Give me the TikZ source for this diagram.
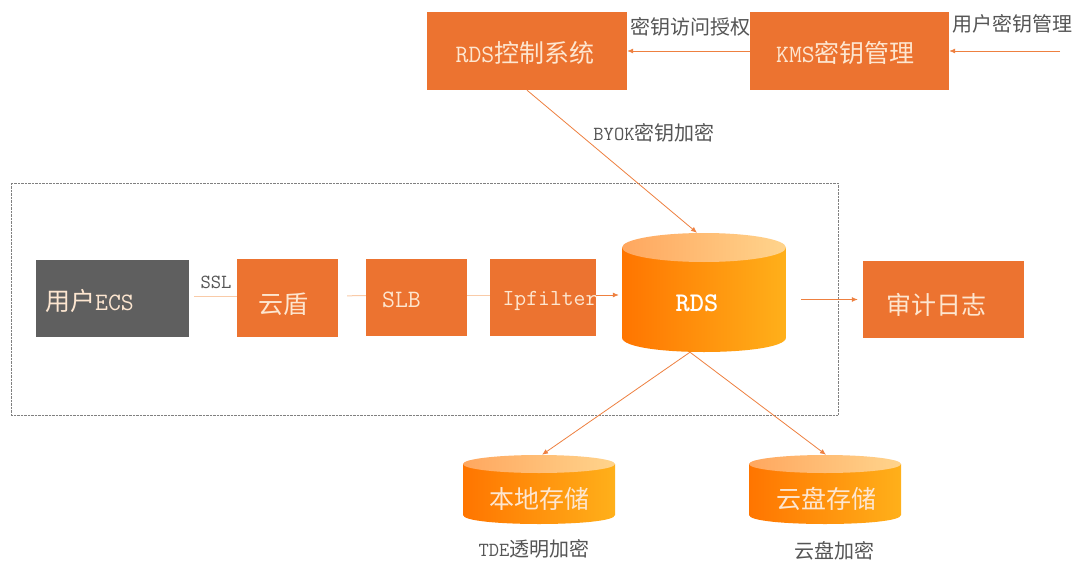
\documentclass[tikz,border=0pt]{standalone}
\usepackage{fontspec}
\usetikzlibrary{arrows.meta}
\newfontfamily\cjk{Noto Sans CJK SC}
\definecolor{boxorange}{HTML}{EC7330}
\definecolor{boxgray}{HTML}{5F5F5F}
\definecolor{paletext}{HTML}{FDE6D0}
\definecolor{linkdark}{HTML}{EE8040}
\definecolor{linklight}{HTML}{F9CBA8}
\definecolor{notegray}{HTML}{555555}
\definecolor{bodyleft}{HTML}{FF7500}
\definecolor{bodyright}{HTML}{FFB01A}
\definecolor{lidleft}{HTML}{FFA75F}
\definecolor{lidright}{HTML}{FFD48C}
\tikzset{
    box/.style={fill=boxorange, inner sep=0pt},
    boxtext/.style={text=paletext, inner sep=0pt, font=\ttfamily\fontsize{25}{25}\selectfont},
    note/.style={text=notegray, inner sep=0pt, font=\ttfamily\fontsize{20}{20}\selectfont},
    flow/.style={draw=linkdark, line width=0.8pt, -{Latex[length=6pt,width=5pt]}},
    faint/.style={draw=linklight, line width=1pt}
}
% name, left, top, right, bottom, lid radius, label
\newcommand{\drum}[7]{
    \shade[left color=bodyleft, right color=bodyright] ({#2},{#3+#6}) -- ({#2},{#5-#6})
        .. controls ({#2},{#5+#6/3}) and ({#4},{#5+#6/3}) .. ({#4},{#5-#6}) -- ({#4},{#3+#6}) -- cycle;
    \shade[left color=lidleft, right color=lidright]
        ({(#2+#4)/2},{#3+#6}) ellipse [x radius={(#4-#2)/2*1pt}, y radius={#6*1pt}];
    \node[inner sep=0pt, minimum width={(#4-#2)*1pt}, minimum height={(#5-#3)*1pt}, label={#7}] (#1) at ({(#2+#4)/2},{(#3+#5)/2}) {};
}
\begin{document}
\begin{tikzpicture}[x=1pt, y=-1pt]
    \useasboundingbox (0,0) rectangle (1080,570);
    \fill[white] (0,0) rectangle (1080,570);

    \node[draw=gray, densely dotted, inner sep=0pt, minimum width=827pt, minimum height=232pt] (zone) at (424.5,299) {};

    \node[box, minimum width=200pt, minimum height=78pt,
        label={[boxtext,xshift=-2pt,yshift=-2pt]center:{RDS{\cjk 控制系统}}}] (ctrl) at (527,51) {};
    \node[box, minimum width=199pt, minimum height=78pt,
        label={[boxtext,xshift=-4pt,yshift=-2pt]center:{KMS{\cjk 密钥管理}}}] (kms) at (849.5,51) {};
    \node[box, fill=boxgray, minimum width=153pt, minimum height=77pt,
        label={[boxtext,xshift=-23pt,yshift=-3pt]center:{{\cjk 用户}ECS}}] (ecs) at (112.5,298.5) {};
    \node[box, minimum width=101pt, minimum height=78pt,
        label={[boxtext,xshift=-4pt,yshift=-6pt]center:{{\cjk 云盾}}}] (shield) at (287.5,298) {};
    \node[box, minimum width=101pt, minimum height=77pt,
        label={[boxtext,xshift=-15pt,yshift=-2pt]center:{SLB}}] (slb) at (416.5,297.5) {};
    \node[box, minimum width=106pt, minimum height=77pt,
        label={[boxtext,xshift=7pt,yshift=-3pt,font=\ttfamily\fontsize{23}{23}\selectfont]center:{Ipfilter}}] (ipf) at (543,297.5) {};
    \node[box, minimum width=161pt, minimum height=77pt,
        label={[boxtext,xshift=-7pt,yshift=-5pt]center:{{\cjk 审计日志}}}] (audit) at (943.5,299.5) {};

    \drum{rds}{622}{233}{786}{352}{14.5}{[boxtext,text=white,xshift=-7pt,yshift=-11pt,font=\ttfamily\bfseries\fontsize{27}{27}\selectfont]center:{RDS}}
    \drum{localdisk}{463}{455}{615}{524}{9}{[boxtext,yshift=-9pt]center:{{\cjk 本地存储}}}
    \drum{clouddisk}{749}{455}{901}{524}{9}{[boxtext,xshift=1pt,yshift=-9pt]center:{{\cjk 云盘存储}}}

    \coordinate (userin) at (1060,51);

    \draw[flow] (kms.west) -- (ctrl.east);
    \draw[flow] (userin) -- (kms.east);
    \draw[flow] (ctrl.south) -- ([xshift=-7pt]rds.north);
    \draw[faint, shorten <=5pt] ([yshift=2pt]ecs.east |- shield.west) -- ([yshift=2pt]shield.west);
    \draw[faint, shorten <=9pt] ([yshift=2pt]shield.east) -- ([yshift=2pt]slb.west);
    \draw[faint] ([yshift=2.5pt]slb.east) -- ([yshift=2.5pt]ipf.west);
    \draw[flow, shorten >=3pt] ([yshift=2.5pt]ipf.east) -- ([yshift=2.5pt]ipf.east -| rds.west);
    \draw[flow, shorten <=15pt, shorten >=5pt] (rds.east |- audit.west) -- (audit.west);
    \draw[flow] ([xshift=-14pt]rds.south) -- ([xshift=3pt]localdisk.north);
    \draw[flow] ([xshift=-14pt]rds.south) -- ([xshift=1pt]clouddisk.north);

    \node[note] (authnote) at (690,27) {{\cjk 密钥访问授权}};
    \node[note] (usernote) at (1012,24) {{\cjk 用户密钥管理}};
    \node[note] (byoknote) at (654,133) {BYOK{\cjk 密钥加密}};
    \node[note] (sslnote) at (216,282) {SSL};
    \node[note] (tdenote) at (534,549) {TDE{\cjk 透明加密}};
    \node[note] (cloudnote) at (834,551) {{\cjk 云盘加密}};
\end{tikzpicture}
\end{document}
